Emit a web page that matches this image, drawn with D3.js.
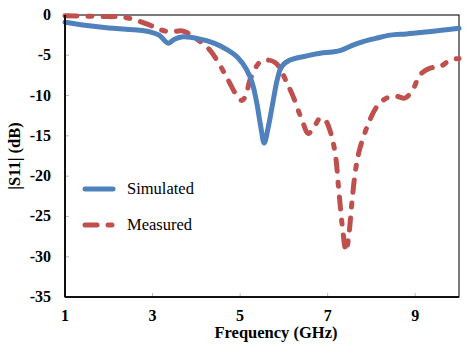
<!DOCTYPE html>
<html>
<head>
<meta charset="utf-8">
<script src="https://cdn.jsdelivr.net/npm/d3@7"></script>
<style>
  body { margin: 0; background: #fff; }
  text { font-family: "Liberation Serif", "Times New Roman", serif; fill: #000; }
  .tick-label { font-size: 16px; font-weight: bold; }
  .axis-title { font-size: 16.5px; font-weight: bold; }
  .legend-text { font-size: 16.5px; }
</style>
</head>
<body>
<svg id="chart" width="474" height="347"></svg>
<script>
  // tick values
  const xTicks = [1, 3, 5, 7, 9];
  const yTicks = [0, -5, -10, -15, -20, -25, -30, -35];

  // simulated |S11| (GHz, dB)
  const simFreq = [1, 1.5, 2, 2.5, 2.94, 3.15, 3.36, 3.5, 3.7, 4.09, 4.4, 4.7, 4.95, 5.15, 5.28, 5.38, 5.47, 5.55, 5.64, 5.76, 5.85, 5.95, 6.14, 6.5, 6.83, 7.1, 7.3, 7.55, 7.81, 8.1, 8.43, 8.8, 9.18, 9.6, 10];
  const simDb = [-0.9, -1.3, -1.6, -1.8, -2.1, -2.5, -3.5, -3.0, -2.7, -3.0, -3.5, -4.3, -5.3, -6.8, -8.5, -10.9, -13.8, -15.9, -14.0, -10.5, -8.0, -6.4, -5.6, -5.1, -4.75, -4.6, -4.4, -3.8, -3.3, -2.9, -2.5, -2.35, -2.15, -1.9, -1.65];

  // measured |S11| (GHz, dB)
  const measFreq = [1, 1.5, 2, 2.33, 2.71, 3.0, 3.17, 3.4, 3.7, 4.09, 4.3, 4.47, 4.73, 4.9, 5.04, 5.13, 5.23, 5.46, 5.65, 5.8, 5.91, 6.05, 6.21, 6.41, 6.56, 6.7, 6.83, 6.95, 7.05, 7.17, 7.25, 7.33, 7.42, 7.48, 7.55, 7.63, 7.72, 7.9, 8.12, 8.35, 8.58, 8.77, 8.96, 9.11, 9.34, 9.57, 9.8, 10];
  const measDb = [-0.1, -0.15, -0.2, -0.25, -0.8, -1.4, -1.8, -2.1, -2.0, -3.3, -4.3, -5.6, -8.1, -9.8, -10.6, -10.0, -8.0, -5.8, -5.6, -5.9, -6.6, -8.2, -10.1, -13.0, -14.7, -13.8, -12.8, -13.1, -14.3, -17.1, -21.5, -26.0, -29.3, -27.5, -23.5, -19.5, -16.9, -13.9, -11.4, -10.3, -10.1, -10.3, -9.1, -7.4, -6.6, -6.4, -5.6, -5.4];

  const legendNames = ["Simulated", "Measured"];
  const blue = "#4F81BD", red = "#C0504D";
  const dash = "12,11,4,11";

  const svg = d3.select("#chart");
  const m = {left: 65, top: 15, right: 459, bottom: 297};

  const x = d3.scaleLinear().domain([1, 10]).range([m.left, m.right]);
  const y = d3.scaleLinear().domain([-35, 0]).range([m.bottom, m.top]);

  // frame (top/right)
  svg.append("rect")
    .attr("x", m.left).attr("y", m.top)
    .attr("width", m.right - m.left).attr("height", m.bottom - m.top)
    .attr("fill", "none").attr("stroke", "#222").attr("stroke-width", 1.2);

  // inside ticks
  const tickCol = "#bbb";
  svg.append("g").selectAll("line").data(xTicks.slice(1)).join("line")
    .attr("x1", d => x(d)).attr("x2", d => x(d))
    .attr("y1", m.bottom).attr("y2", m.bottom - 4)
    .attr("stroke", tickCol);
  svg.append("g").selectAll("line").data(yTicks.slice(1, -1)).join("line")
    .attr("x1", m.left).attr("x2", m.left + 4)
    .attr("y1", d => y(d)).attr("y2", d => y(d))
    .attr("stroke", tickCol);

  // tick labels
  svg.append("g").selectAll("text").data(xTicks).join("text")
    .attr("class", "tick-label")
    .attr("x", d => x(d)).attr("y", m.bottom + 24)
    .attr("text-anchor", "middle").text(d => d);
  svg.append("g").selectAll("text").data(yTicks).join("text")
    .attr("class", "tick-label")
    .attr("x", m.left - 14).attr("y", d => y(d) + 5)
    .attr("text-anchor", "end").text(d => d);

  // axis titles
  svg.append("text").attr("class", "axis-title")
    .attr("x", (m.left + m.right) / 2 + 14).attr("y", 338)
    .attr("text-anchor", "middle").text("Frequency (GHz)");
  svg.append("text").attr("class", "axis-title")
    .attr("transform", `translate(20,${(m.top + m.bottom) / 2}) rotate(-90)`)
    .attr("text-anchor", "middle").text("|S11| (dB)");

  const line = d3.line().x(d => x(d[0])).y(d => y(d[1])).curve(d3.curveCatmullRom.alpha(0.5));

  svg.append("path")
    .attr("d", line(d3.zip(measFreq, measDb)))
    .attr("fill", "none").attr("stroke", red).attr("stroke-width", 5)
    .attr("stroke-linecap", "round").attr("stroke-dasharray", dash);

  svg.append("path")
    .attr("d", line(d3.zip(simFreq, simDb)))
    .attr("fill", "none").attr("stroke", blue).attr("stroke-width", 5)
    .attr("stroke-linecap", "round");

  // axis lines (left, bottom)
  svg.append("line").attr("x1", m.left).attr("x2", m.left).attr("y1", m.top).attr("y2", m.bottom)
    .attr("stroke", "#111").attr("stroke-width", 2);
  svg.append("line").attr("x1", m.left).attr("x2", m.right).attr("y1", m.bottom).attr("y2", m.bottom)
    .attr("stroke", "#111").attr("stroke-width", 2);

  // legend
  const leg = svg.append("g");
  [[blue, null], [red, dash]].forEach((s, i) => {
    const ly = 189 + i * 36;
    leg.append("line").attr("x1", 85).attr("x2", 113).attr("y1", ly).attr("y2", ly)
      .attr("stroke", s[0]).attr("stroke-width", 5).attr("stroke-linecap", "round")
      .attr("stroke-dasharray", s[1]);
    leg.append("text").attr("class", "legend-text")
      .attr("x", 127).attr("y", ly + 5).text(legendNames[i]);
  });
</script>
</body>
</html>
